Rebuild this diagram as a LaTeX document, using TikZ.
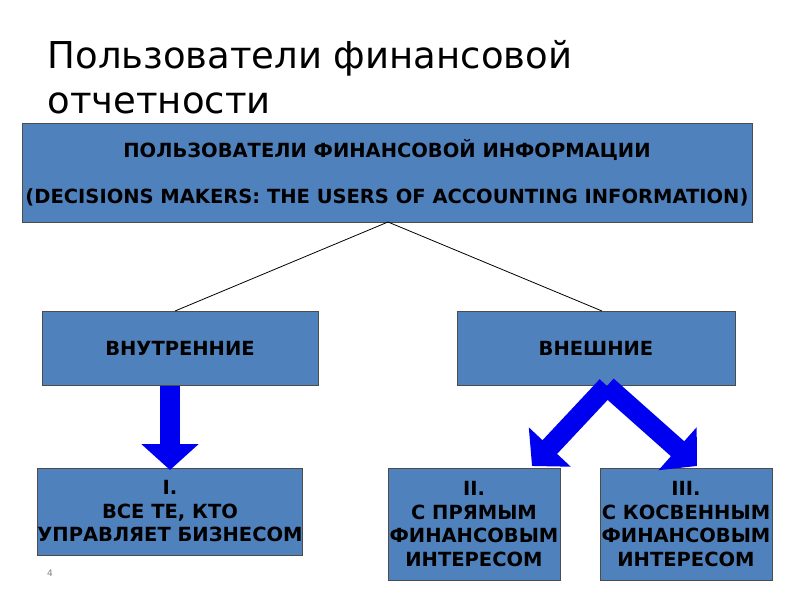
\documentclass[tikz,border=0pt]{standalone}
\usepackage{fontspec}
\setmainfont{DejaVu Sans}
\usetikzlibrary{arrows.meta}
\definecolor{boxblue}{HTML}{4F81BD}
\definecolor{arrblue}{HTML}{0000F0}
\tikzset{
  userbox/.style={draw=black!70,fill=boxblue,line width=0.8pt,align=center,
    font=\bfseries\fontsize{19.5}{23.5}\selectfont,inner sep=0pt},
  bigarrow/.style={draw=arrblue,line width=20pt,
    -{Triangle[width=56pt,length=26pt]},shorten >=0pt}
}
\begin{document}
\begin{tikzpicture}[x=1pt,y=-1pt]
\useasboundingbox (0,0) rectangle (800,600);
\node[anchor=west,align=left,font=\fontsize{37}{45}\selectfont] (title) at (44,77)
  {Пользователи финансовой\\отчетности};

\node[userbox,minimum width=730,minimum height=99] (top) at (387,172.5)
  {ПОЛЬЗОВАТЕЛИ ФИНАНСОВОЙ ИНФОРМАЦИИ\\[22pt](DECISIONS MAKERS: THE USERS OF ACCOUNTING INFORMATION)};
\node[userbox,minimum width=276,minimum height=74] (inner) at (180,348) {ВНУТРЕННИЕ};
\node[userbox,minimum width=278,minimum height=74] (outer) at (596,348) {ВНЕШНИЕ};
\node[userbox,minimum width=260,minimum height=87] (own) at (170,511.5)
  {I.\\ВСЕ ТЕ, КТО\\УПРАВЛЯЕТ БИЗНЕСОМ};
\node[userbox,minimum width=172,minimum height=112] (direct) at (474,524)
  {II.\\С ПРЯМЫМ\\ФИНАНСОВЫМ\\ИНТЕРЕСОМ};
\node[userbox,minimum width=172,minimum height=112] (indirect) at (686,524)
  {III.\\С КОСВЕННЫМ\\ФИНАНСОВЫМ\\ИНТЕРЕСОМ};
\node[font=\fontsize{9}{9}\selectfont,text=gray] (page) at (50,573) {4};

\coordinate (split) at (388,222);
\draw[line width=0.8pt] (split) -- (175,311);
\draw[line width=0.8pt] (split) -- (602,311);

\coordinate (fork) at (607,386);
\draw[bigarrow] (170,386) -- (170,470);
\draw[bigarrow] (fork) -- (532,466);
\draw[bigarrow] (fork) -- (697,466);
\end{tikzpicture}
\end{document}
